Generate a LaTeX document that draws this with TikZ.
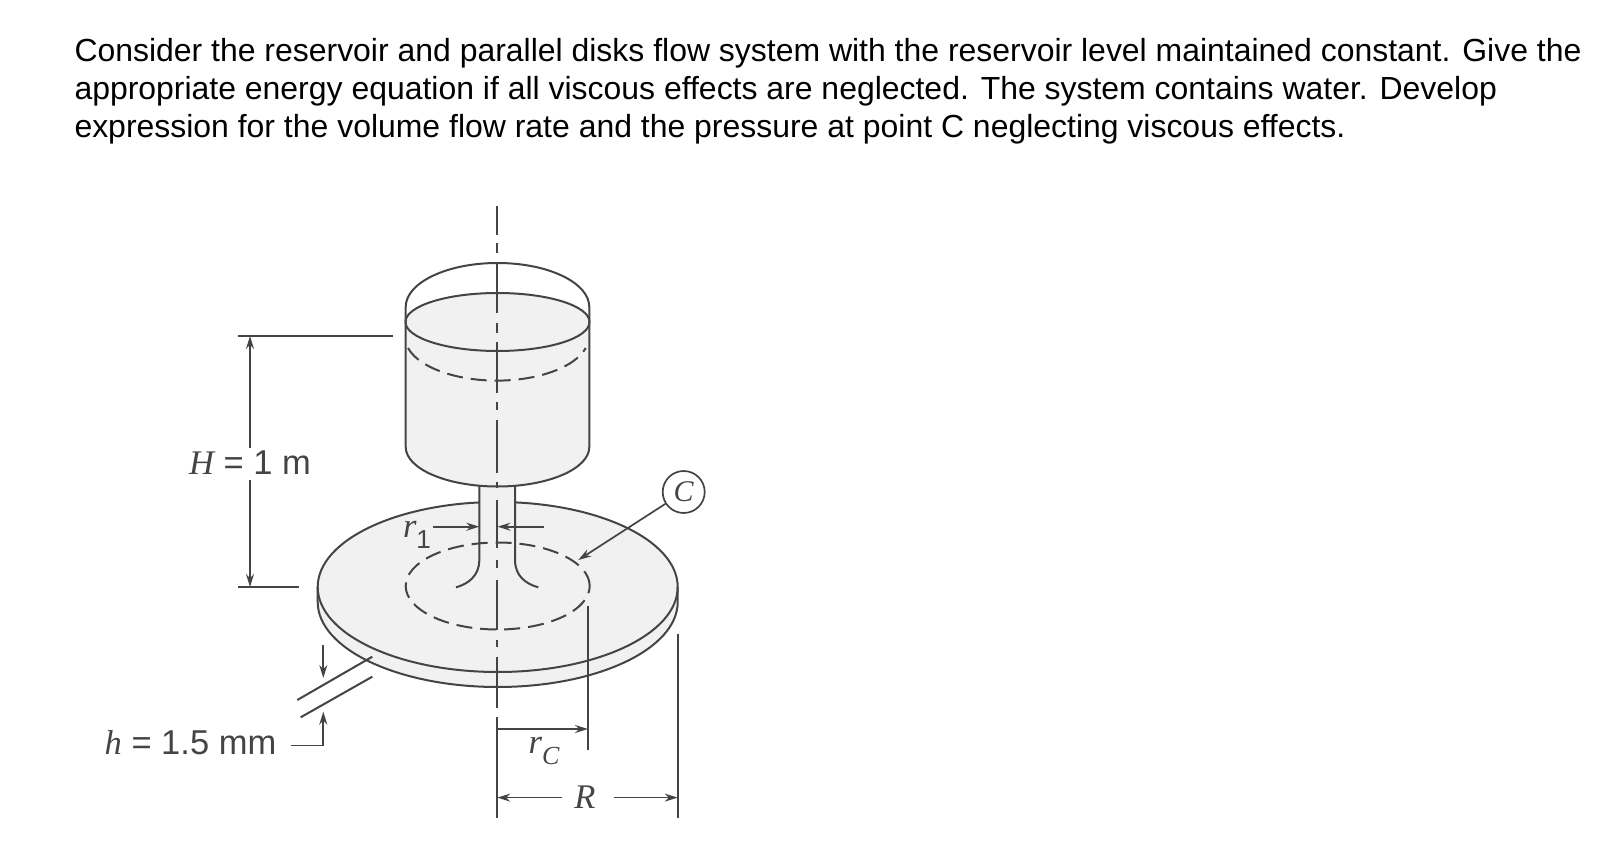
\documentclass[tikz,border=0pt]{standalone}
\usepackage{fontspec}
\setmainfont{Liberation Sans}
\newfontfamily\varfont{Liberation Serif}
\usepackage{tikz}
\usetikzlibrary{arrows.meta,shapes}
\definecolor{inkgray}{HTML}{444444}
\definecolor{watergray}{HTML}{F1F1F1}
\newcommand{\fv}[1]{{\varfont\itshape #1}}
\newcommand{\sbs}[1]{\raisebox{-0.32em}{\fontsize{26}{26}\selectfont #1}}

\begin{document}
\begin{tikzpicture}[x=1pt,y=-1pt,>={Stealth[length=13pt,width=8pt]},line width=2pt,
fig/.style={draw=inkgray},
dim/.style={draw=inkgray,line width=1.7pt,->},
level/.style={draw=inkgray,dash pattern=on 16pt off 8pt},
every node/.style={inner sep=0pt,text=inkgray,font=\fontsize{34.5}{36}\selectfont},
qline/.style={anchor=base west,text=black,font=\fontsize{31.95}{38}\selectfont}]
\useasboundingbox (0,0) rectangle (1620,858);

\node[qline] (qone) at (73.5,62) {Consider the reservoir and parallel disks flow system with the reservoir level maintained constant. Give the};
\node[qline] (qtwo) at (73.5,100) {appropriate energy equation if all viscous effects are neglected. The system contains water. Develop};
\node[qline] (qthree) at (73.5,138) {expression for the volume flow rate and the pressure at point C neglecting viscous effects.};

\fill[watergray] (317.7,587) arc[start angle=180,end angle=360,x radius=180,y radius=85]
-- (677.7,602) arc[start angle=0,end angle=180,x radius=180,y radius=85] -- cycle;
\draw[fig] (317.7,587) arc[start angle=180,end angle=540,x radius=180,y radius=85];
\draw[fig] (317.7,587) -- (317.7,602) arc[start angle=180,end angle=0,x radius=180,y radius=85] -- (677.7,587);

\fill[watergray] (479.3,480) rectangle (515,560);
\draw[fig] (479.3,486) -- (479.3,560) .. controls (479.3,576) and (468,584) .. (456,587.3);
\draw[fig] (515,486) -- (515,560) .. controls (515,576) and (526,584) .. (538.3,587.3);

\fill[watergray] (405.7,322) -- (405.7,447) arc[start angle=180,end angle=0,x radius=91.8,y radius=39.5]
-- (589.3,322) arc[start angle=0,end angle=-180,x radius=91.8,y radius=29] -- cycle;
\draw[fig] (405.7,307) arc[start angle=180,end angle=360,x radius=91.8,y radius=44];
\draw[fig] (405.5,322) arc[start angle=180,end angle=540,x radius=92,y radius=29];
\draw[fig] (405.7,307) -- (405.7,447) arc[start angle=180,end angle=0,x radius=91.8,y radius=39.5] -- (589.3,307);

\foreach \ya/\yb in {206/235,243/253,263/313,323/333,342/393,402/410,420/473,482/488,500/548,560/568,580/630,640/647,657/708}
\draw[fig] (497.3,\ya) -- (497.3,\yb);

\draw[level] (408,348) arc[start angle=165,end angle=15,x radius=92,y radius=44];
\draw[level] (589.7,586) arc[start angle=0,end angle=-360,x radius=92,y radius=43.5];

\node[circle,draw=inkgray,line width=1.7pt,minimum size=42pt,font=\fontsize{30}{30}\selectfont] (pointC) at (683.7,492) {\fv{C}};
\coordinate (tipC) at (578.3,560);
\draw[dim] (pointC) -- (tipC);

\node (rone) at (417,535) {\fv{r}\sbs{1}};
\coordinate (oneL) at (479.3,526.7);
\coordinate (oneR) at (497.5,526.7);
\draw[dim] (433.3,526.7) -- (oneL);
\draw[dim] (544,526.7) -- (oneR);

\node (Hlabel) at (250,462.5) {\fv{H} = 1 m};
\coordinate (Htop) at (250,336);
\coordinate (Hbot) at (250,587);
\draw[fig] (238,336) -- (392.7,336);
\draw[fig] (238,587) -- (299,587);
\draw[dim] (Hlabel.north -| Htop) ++(0,-2) -- (Htop);
\draw[dim] (Hlabel.south -| Hbot) ++(0,5) -- (Hbot);

\draw[fig] (297.3,700) -- (372.3,656.7);
\draw[fig] (300.7,717.3) -- (372.3,676.7);
\node (hlabel) at (190.5,743) {\fv{h} = 1.5 mm};
\coordinate (htop) at (323.3,678);
\coordinate (hbot) at (323.3,711.7);
\draw[dim] (323.3,645) -- (htop);
\draw[dim] (291,745.5) -- (323.3,745.5) -- (hbot);

\draw[fig,line width=1.7pt] (588,606) -- (588,750);
\draw[fig,line width=1.7pt] (677.7,634) -- (677.7,818);
\draw[fig,line width=1.7pt] (497.3,717) -- (497.3,818);

\coordinate (axisC) at (497.3,729);
\coordinate (edgeC) at (588,729);
\draw[dim] (axisC) -- (edgeC);
\node (rc) at (544,751) {\fv{r}\sbs{\fv{C}}};

\node (Rlabel) at (585,797.6) {\fv{R}};
\coordinate (axisR) at (497.3,797.6);
\coordinate (edgeR) at (677.7,797.6);
\draw[dim] (561.5,797.6) -- (axisR);
\draw[dim] (614,797.6) -- (edgeR);
\end{tikzpicture}
\end{document}
